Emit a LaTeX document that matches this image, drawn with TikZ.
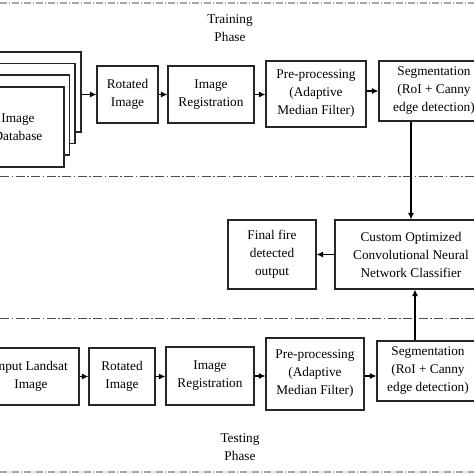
\documentclass[tikz,border=0pt]{standalone}
\usepackage{fontspec}
\setmainfont{Liberation Serif}
\usetikzlibrary{arrows.meta}
\tikzset{
  box/.style={draw=black!85, line width=1.1pt, fill=white, align=center, inner sep=1pt,
    font=\fontsize{13.3}{18}\selectfont},
  lbl/.style={align=center, font=\fontsize{13.3}{18}\selectfont},
  arr/.style={draw=black, line width=1.1pt, -{Latex[length=6.5pt,width=6pt]}},
  sepline/.style={draw=black!70, line width=1pt, dash pattern=on 9pt off 2.5pt on 1.5pt off 2.5pt},
  edgeline/.style={draw=black!35, line width=1.3pt, dash pattern=on 7pt off 2pt on 1pt off 2pt}
}
\begin{document}
\begin{tikzpicture}[x=1pt,y=-1pt]
\useasboundingbox (0,0) rectangle (474,474);
\clip (0,0) rectangle (474,474);
\fill[white] (0,0) rectangle (474,474);
% separators
\draw[edgeline] (0,3) -- (474,3);
\draw[sepline] (0,176) -- (474,176);
\draw[sepline] (0,318) -- (474,318);
\draw[edgeline] (0,472) -- (474,472);
% phase labels
\node[lbl] (train) at (230,28) {Training\\Phase};
\node[lbl] (test) at (240,447) {Testing\\Phase};
% image database stack
\node[box, minimum width=92pt, minimum height=80pt] (db3) at (35,92) {};
\node[box, minimum width=92pt, minimum height=80pt] (db2) at (29,103.5) {};
\node[box, minimum width=92pt, minimum height=80pt] (db1) at (23.5,115) {};
\node[box, minimum width=92pt, minimum height=80pt] (db0) at (18,127) {Image\\Database};
% top row
\node[box, minimum width=61pt, minimum height=57pt] (rot1) at (127.5,94.5) {Rotated\\Image};
\node[box, minimum width=86pt, minimum height=57pt] (reg1) at (211,94.5) {Image\\Registration};
\node[box, minimum width=100pt, minimum height=66pt] (pre1) at (316,94) {Pre-processing\\(Adaptive\\Median Filter)};
\node[box, minimum width=110pt, minimum height=60pt] (seg1) at (434,91) {Segmentation\\(RoI + Canny\\edge detection)};
% middle
\node[box, minimum width=152pt, minimum height=69pt] (cnn) at (411,254.5) {Custom Optimized\\Convolutional Neural\\Network Classifier};
\node[box, minimum width=88pt, minimum height=69pt] (final) at (272,254.5) {Final fire\\detected\\output};
% bottom row
\node[box, minimum width=96pt, minimum height=57pt] (in2) at (31,376.5) {Input Landsat\\Image};
\node[box, minimum width=66pt, minimum height=57pt] (rot2) at (122,376.5) {Rotated\\Image};
\node[box, minimum width=88pt, minimum height=58pt] (reg2) at (210,376) {Image\\Registration};
\node[box, minimum width=98pt, minimum height=72pt] (pre2) at (315,374) {Pre-processing\\(Adaptive\\Median Filter)};
\node[box, minimum width=102pt, minimum height=60pt] (seg2) at (428,371) {Segmentation\\(RoI + Canny\\edge detection)};
% arrows top
\draw[arr] (db3.east |- rot1.west) -- (rot1.west);
\draw[arr] (rot1.east) -- (reg1.west);
\draw[arr] (reg1.east) -- (reg1.east -| pre1.west);
\draw[arr] (pre1.east |- seg1.west) -- (seg1.west);
\draw[arr] (cnn.north |- seg1.south) -- (cnn.north);
\draw[arr] (cnn.west) -- (final.east);
% arrows bottom
\draw[arr] (in2.east) -- (rot2.west);
\draw[arr] (rot2.east) -- (rot2.east -| reg2.west);
\draw[arr] (reg2.east) -- (reg2.east -| pre2.west);
\draw[arr] (pre2.east |- reg2.east) -- (pre2.east |- reg2.east -| seg2.west);
\coordinate (c2) at ([xshift=4pt]cnn.south);
\draw[arr] (c2 |- seg2.north) -- (c2);
\end{tikzpicture}
\end{document}
